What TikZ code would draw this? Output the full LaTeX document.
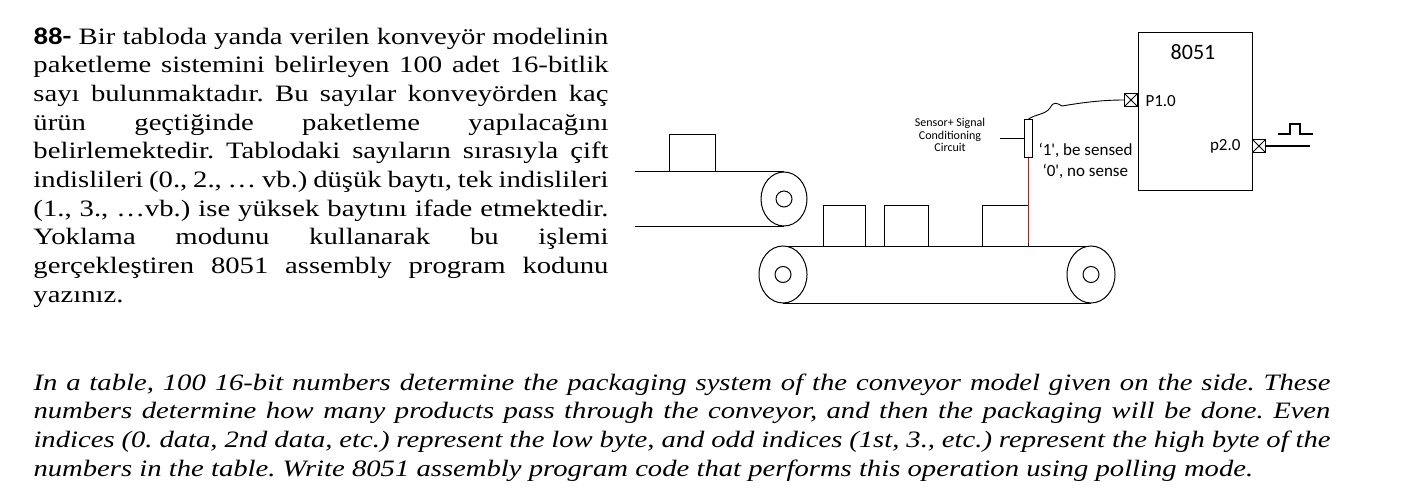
\documentclass[tikz,border=0pt]{standalone}
\usepackage{fontspec}
\setmainfont[FakeStretch=1.22]{Liberation Serif}
\newfontfamily\calfont{Carlito}
\newfontfamily\calwide[FakeStretch=1.2]{Carlito}
\begin{document}
\begin{tikzpicture}[x=1pt,y=-1pt,line width=1pt,
  box/.style={draw,line width=1pt},
  port/.style={draw,line width=1pt,minimum size=13pt,inner sep=0pt,path picture={\draw[line width=0.9pt] (path picture bounding box.south west)--(path picture bounding box.north east) (path picture bounding box.north west)--(path picture bounding box.south east);}},
  lab/.style={font=\calfont\fontsize{17}{19}\selectfont,inner sep=0pt}]
\useasboundingbox (0,0) rectangle (1412,497);
% text
\node[anchor=north west,inner sep=0pt,text width=575pt,align=justify,font=\fontsize{23.5}{28.7}\selectfont\frenchspacing] (tr) at (33,27) {%
{\calwide\bfseries\fontsize{24}{28.7}\selectfont 88-} Bir tabloda yanda verilen konveyör modelinin\linebreak
paketleme sistemini belirleyen 100 adet 16-bitlik\linebreak
sayı bulunmaktadır. Bu sayılar konveyörden kaç\linebreak
ürün geçtiğinde paketleme yapılacağını\linebreak
belirlemektedir. Tablodaki sayıların sırasıyla çift\linebreak
indislileri (0., 2., … vb.) düşük baytı, tek indislileri\linebreak
(1., 3., …vb.) ise yüksek baytını ifade etmektedir.\linebreak
Yoklama modunu kullanarak bu işlemi\linebreak
gerçekleştiren 8051 assembly program kodunu\linebreak
yazınız.};
\node[anchor=north west,inner sep=0pt,text width=1297pt,align=justify,font=\itshape\fontsize{23.5}{28.7}\selectfont\frenchspacing] (en) at (33,373) {%
In a table, 100 16-bit numbers determine the packaging system of the conveyor model given on the side. These\linebreak
numbers determine how many products pass through the conveyor, and then the packaging will be done. Even\linebreak
indices (0. data, 2nd data, etc.) represent the low byte, and odd indices (1st, 3., etc.) represent the high byte of the\linebreak
numbers in the table. Write 8051 assembly program code that performs this operation using polling mode.};
% upper conveyor
\draw (635,172) -- (784,172) (635,226) -- (784,226);
\draw[fill=white] (784,199) ellipse [x radius=23, y radius=27];
\draw (784,199) circle (8);
\draw (669,172) rectangle (715,135);
% lower conveyor
\draw (783,246) -- (1091,246) (783,303) -- (1091,303);
\draw[fill=white] (783,274.5) ellipse [x radius=24, y radius=28.5];
\draw (783,274.5) circle (8);
\draw[fill=white] (1091,274.5) ellipse [x radius=24, y radius=28.5];
\draw (1091,274.5) circle (8);
\draw (823,246) rectangle (865,205);
\draw (884,246) rectangle (928,205);
\draw (982,246) rectangle (1028,205);
% 8051
\node[box,minimum width=114pt,minimum height=158pt,anchor=north west] (mcu) at (1138,32) {};
\node[font=\calfont\fontsize{22}{24}\selectfont] (t8051) at (1193,52) {8051};
\node[port] (p10) at (1131,100) {};
\node[lab,anchor=west] (lp10) at (1145,101) {P1.0};
\node[port] (p20) at (1259,146) {};
\node[lab,anchor=east] (lp20) at (1241,146) {p2.0};
\coordinate (o1) at (1310,146);
\draw[line width=1.2pt] (p20.east) -- (o1);
\draw[line width=1.2pt] (1278,134) -- (1290,134) -- (1290,124) -- (1300,124) -- (1300,134) -- (1313,134);
% sensor
\node[draw,line width=1pt,minimum width=8pt,minimum height=38pt,inner sep=0pt] (sen) at (1028,139) {};
\coordinate (beam) at (1028,243);
\draw[red,line width=1pt] (sen.south) -- (beam);
\node[font=\calfont\fontsize{12}{12.5}\selectfont,align=center,inner sep=0pt] (slab) at (950,135) {Sensor+ Signal\\Conditioning\\Circuit};
\coordinate (d1) at (1000,139);
\draw (d1) -- (sen.west);
\draw[line width=0.9pt] (sen.north) .. controls (1035,114) and (1045,115) .. (1050,108)
  .. controls (1054,100) and (1058,104) .. (1062,106)
  .. controls (1080,103) and (1100,100) .. (p10.west);
\node[lab,anchor=west] (s1) at (1038,150) {‘1', be sensed};
\node[lab,anchor=west] (s0) at (1042,171) {‘0', no sense};
\end{tikzpicture}
\end{document}
